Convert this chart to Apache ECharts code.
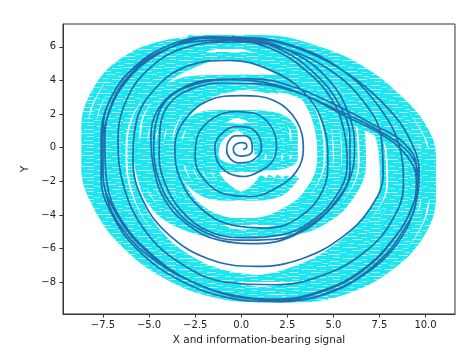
<!DOCTYPE html>
<html><head><meta charset="utf-8">
<script src="https://cdn.jsdelivr.net/npm/echarts@6/dist/echarts.min.js"></script>
<style>html,body{margin:0;padding:0;background:#fff}#c{width:474px;height:355px}</style>
</head><body><div id="c"></div>
<script>
// ---- tick labels ----
const xTicks = [-7.5, -5.0, -2.5, 0.0, 2.5, 5.0, 7.5, 10.0];
const yTicks = [-8, -6, -4, -2, 0, 2, 4, 6];

// ---- blue trajectory: X vs Y ----
const blueXY = [
 [0.1,-0.1],[0.3,0.05],[0.25,0.25],[0.0,0.3],[-0.3,0.2],[-0.43,-0.05],[-0.35,-0.35],[-0.05,-0.5],[0.35,-0.45],[0.6,-0.15],
 [0.55,0.4],[0.15,0.72],[-0.35,0.7],[-0.7,0.35],[-0.79,-0.15],[-0.6,-0.65],[-0.15,-0.9],[0.4,-0.85],[0.9,-0.5],[1.1,-0.05],
 [0.95,0.7],[0.4,1.2],[-0.3,1.25],[-1.0,0.9],[-1.43,0.1],[-1.3,-0.8],[-0.7,-1.5],[0.2,-1.71],[1.0,-1.4],[1.7,-0.8],[1.92,0.1],
 [1.6,1.3],[0.7,2.05],[-0.4,2.15],[-1.6,1.7],[-2.4,0.6],[-2.5,-0.6],[-2.0,-1.9],[-0.9,-2.75],[0.5,-2.9],[1.9,-2.4],[3.0,-1.4],[3.37,-0.1],
 [3.0,1.6],[1.8,2.8],[0.0,3.1],[-1.8,2.8],[-3.1,1.6],[-3.6,0],[-3.3,-1.9],[-2.2,-3.6],[-0.5,-4.6],[1.5,-4.78],[3.2,-4.1],[4.4,-2.6],[4.7,-0.8],
 [4.5,1.2],[3.4,3.3],[1.6,4.6],[-0.6,5.2],[-2.8,4.9],[-4.6,3.6],[-5.7,1.5],[-5.87,-0.8],[-5.3,-3.2],[-3.9,-5.2],[-1.8,-6.6],[0.8,-7.06],[3.3,-6.6],[5.5,-5.3],[7.0,-3.6],[7.7,-1.6],
 [7.6,0.6],[6.6,2.8],[4.7,4.7],[2.3,5.9],[-0.3,6.3],[-2.9,6.0],[-4.9,4.8],[-6.2,2.9],[-6.68,0.5],[-6.4,-2.2],[-5.3,-4.8],[-3.4,-6.8],[-0.8,-8.0],[1.8,-8.15],[4.4,-7.6],[6.7,-6.2],[8.2,-4.3],[8.8,-2.2],
 [8.6,0.0],[7.5,2.4],[5.5,4.6],[3.0,6.0],[0.2,6.55],[-1.5,6.55],[-3.5,6.1],[-5.5,5.0],[-6.9,3.3],[-7.5,1.0],[-7.5,-1.5],[-6.7,-4.1],[-5.0,-6.3],[-2.9,-7.85],[-0.4,-8.8],[1.9,-9.0],[4.1,-8.6],[6.4,-7.4],[8.2,-5.5],[9.3,-3.5],[9.5,-1.9],[9.0,-0.5],
 [7.6,0.8],[5.6,1.9],[3.3,3.2],[1.2,3.9],[-0.6,4.05],[-2.4,3.8],[-3.9,3.0],[-4.6,1.6],[-4.75,0],[-4.5,-1.8],[-3.7,-3.5],[-2.2,-4.9],[-0.2,-5.5],[1.8,-5.45],[3.7,-4.6],[5.2,-3.1],[5.9,-1.3],[5.9,0.6],[5.3,2.6],[4.0,4.4],[2.2,5.8],[0.0,6.45],[-2.0,6.5],[-4.0,5.9],[-5.8,4.6],[-7.0,2.7],[-7.4,0.3],[-7.3,-2.0],[-6.5,-4.3],[-4.9,-6.3],[-2.8,-7.9],[-0.3,-8.8],[2.0,-9.05],[4.3,-8.6],[6.6,-7.3],[8.3,-5.4],[9.35,-3.3],[9.6,-1.7],[9.1,-0.3],
 [7.5,1.0],[5.3,2.2],[3.0,3.3],[0.9,3.8],[-1.0,3.85],[-2.7,3.5],[-3.9,2.6],[-4.4,1.2],[-4.45,-0.5],[-4.1,-2.2],[-3.2,-3.8],[-1.7,-5.0],[0.2,-5.35],[2.1,-5.2],[3.9,-4.3],[5.2,-2.8],[5.75,-1.0],[5.6,0.9],[4.9,2.9],[3.5,4.6],[1.6,5.9],[-0.6,6.4],[-2.7,6.3],[-4.6,5.5],[-6.2,4.0],[-7.2,2.0],[-7.55,-0.3],[-7.35,-2.7],[-6.4,-4.9],[-4.7,-6.7],[-2.4,-8.1],[0.2,-8.95],[2.6,-9.1],[5.0,-8.5],[7.1,-7.1],[8.7,-5.1],[9.5,-2.9],[9.5,-1.1],[8.8,0.3],
 [7.3,1.3],[5.2,2.5],[2.9,3.6],[0.6,4.1],[-1.5,4.05],[-3.3,3.5],[-4.5,2.3],[-4.9,0.6],[-4.75,-1.2],[-4.2,-3.0],[-3.0,-4.5],[-1.2,-5.5],[0.9,-5.7],[2.9,-5.2],[4.6,-3.9],[5.8,-2.1],[6.15,0],[5.8,2.1],[4.7,4.1],[2.9,5.6],[0.6,6.45],[-1.7,6.6],[-3.9,6.1],[-5.8,4.8],[-7.1,2.9],[-7.6,0.6],[-7.6,-1.8],[-6.9,-4.2],[-5.4,-6.3],[-3.3,-7.9],[-0.8,-8.9],[1.8,-9.15],[4.3,-8.8],[6.6,-7.6],[8.4,-5.8],[9.4,-3.6],[9.65,-1.4],[9.1,0.6],[8.0,2.3],
 [6.3,4.0],[4.2,5.4],[1.9,6.3],[-0.5,6.6]
];

// ---- cyan: X + information-bearing signal vs Y (band centre lines) ----
const cyanInner = [
 [1.8,-0.4],[1.5,0.6],[0.5,1.25],[-0.9,1.25],[-2.0,0.6],[-2.3,-0.4],[-1.9,-1.0],[-0.6,-1.25],[0.9,-1.15],
 [2.0,-0.6],[2.0,0.8],[1.0,1.9],[-0.5,2.05],[-1.9,1.6],[-2.5,0.4],[-2.4,-1.1],[-1.6,-2.4],[-0.3,-2.95],[1.2,-2.7],[2.1,-1.7]
];
const cyanOuter = [
 [2.5,3.4],[0.6,3.65],[-1.5,3.5],[-3.3,2.6],[-4.3,1.0],[-4.5,-0.8],[-3.9,-2.6],[-2.7,-3.9],[-0.8,-4.4],[1.3,-4.4],[3.2,-3.8],[4.6,-2.5],[5.2,-0.6],[5.0,1.4],[4.2,3.2],[2.8,4.6],[0.8,5.4],[-1.5,5.5],[-3.6,4.9],[-5.4,3.6],[-6.6,1.8],[-6.9,-0.4],[-6.6,-2.7],[-5.5,-4.9],[-3.7,-6.6],[-1.3,-7.6],[1.3,-7.8],[3.9,-7.2],[6.1,-5.9],[7.8,-4.1],[8.6,-2.1],[8.5,0.0],
 [7.6,2.1],[5.9,4.0],[3.6,5.4],[1.0,6.1],[-1.6,6.1],[-3.9,5.5],[-5.8,4.2],[-7.0,2.3],[-7.4,0.0],[-7.2,-2.4],[-6.2,-4.7],[-4.4,-6.6],[-2.0,-7.9],[0.7,-8.5],[3.4,-8.3],[5.9,-7.3],[7.9,-5.6],[9.0,-3.5],[9.3,-1.3],[8.8,0.4],
 [7.3,1.4],[5.3,2.5],[3.0,3.6],[0.8,4.15],[-1.4,4.1],[-3.3,3.5],[-4.5,2.2],[-4.8,0.4],[-4.6,-1.6],[-3.9,-3.4],[-2.4,-4.6],[-0.4,-5.1],[1.8,-5.0],[3.7,-4.3],[5.1,-2.8],[5.7,-0.9],[5.6,1.2],[4.8,3.2],[3.3,4.9],[1.2,6.0],[-1.2,6.4],[-3.6,6.1],[-5.6,5.1],[-7.0,3.4],[-7.6,1.2],[-7.6,-1.2],[-6.9,-3.6],[-5.4,-5.8],[-3.2,-7.6],[-0.6,-8.7],[2.1,-9.0],[4.8,-8.5],[7.2,-7.1],[8.9,-5.1],[9.5,-2.8],[9.5,-0.6],[9.0,1.2],
 [7.6,3.0],[5.6,4.7],[3.1,5.9],[0.4,6.5],[-2.0,6.5]
];
// horizontal spread of the added signal (in X units)
const signalSpread = [-0.9, -0.45, 0, 0.45, 0.9];

// horizontal-streak texture for the noisy cyan trace (style only)
function streakPattern() {
  const c = document.createElement('canvas');
  c.width = 41; c.height = 11;
  const g = c.getContext('2d');
  g.fillStyle = '#1ee6f0'; g.fillRect(0, 0, 41, 11);
  const streaks = [[0,1,12,0.7],[20,1,6,0.45],[30,2,9,0.65],[5,4,7,0.55],[15,5,14,0.7],
                   [34,6,5,0.45],[2,8,9,0.65],[24,8,10,0.55],[12,10,6,0.45],[36,10,5,0.65]];
  streaks.forEach(s => { g.fillStyle = 'rgba(255,255,255,' + s[3] + ')'; g.fillRect(s[0], s[1], s[2], 1); });
  return c;
}
const cyanColor = {image: streakPattern(), repeat: 'repeat'};

const chart = echarts.init(document.getElementById('c'), null, {renderer:'canvas'});
const fmtMinus = s => s.replace('-', '\u2212');
const series = [];
[cyanInner, cyanOuter].forEach(path => {
  signalSpread.forEach(d => {
    series.push({
      type:'line', data: path.map(p => [p[0] + d, p[1]]),
      smooth: 0.4, symbol:'none', silent:true,
      lineStyle:{color: cyanColor, width:6.5}, z:1
    });
  });
});
series.push({
  type:'line', data: blueXY, smooth:0.4, symbol:'none', silent:true,
  lineStyle:{color:'#1f6fae', width:1.7}, z:2
});

chart.setOption({
  animation:false,
  grid:{left:63, right:19, top:24, bottom:41, show:true, borderColor:'#333', borderWidth:1, backgroundColor:'transparent'},
  xAxis:{
    type:'value', min:-9.67, max:11.6,
    name:'X and information-bearing signal', nameLocation:'middle', nameGap:21,
    nameTextStyle:{fontFamily:'DejaVu Sans', fontSize:10.5, color:'#222'},
    axisLine:{show:true, onZero:false, lineStyle:{color:'#333', width:1}},
    axisTick:{show:true, inside:false, length:3.5, customValues:xTicks, lineStyle:{color:'#333'}},
    axisLabel:{customValues:xTicks, margin:6, fontFamily:'DejaVu Sans', fontSize:10, color:'#222',
      formatter: v => fmtMinus(Number(v).toFixed(1))},
    splitLine:{show:false}
  },
  yAxis:{
    type:'value', min:-9.89, max:7.36,
    name:'Y', nameLocation:'middle', nameGap:31, nameRotate:90,
    nameTextStyle:{fontFamily:'DejaVu Sans', fontSize:10.5, color:'#222'},
    axisLine:{show:true, onZero:false, lineStyle:{color:'#333', width:1}},
    axisTick:{show:true, inside:false, length:3.5, customValues:yTicks, lineStyle:{color:'#333'}},
    axisLabel:{customValues:yTicks, margin:7, fontFamily:'DejaVu Sans', fontSize:10, color:'#222',
      formatter: v => fmtMinus(String(Math.round(v)))},
    splitLine:{show:false}
  },
  series: series
});
</script></body></html>
